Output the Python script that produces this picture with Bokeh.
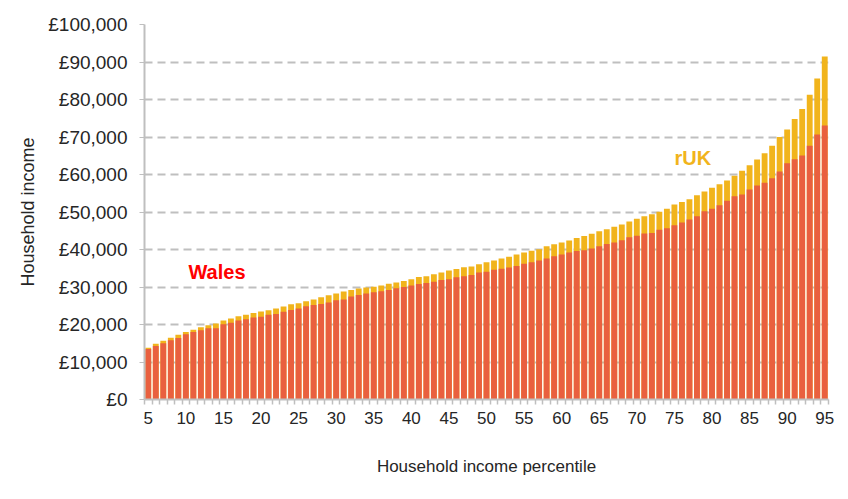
from bokeh.embed import file_html
from bokeh.models import FixedTicker, Label, Range1d
from bokeh.plotting import figure
from bokeh.resources import INLINE

# Household income by percentile (£ thousands)
percentiles = list(range(5, 96))
wales_k = [
    13.5, 14.3, 15.0, 15.8, 16.4, 17.4, 18.0, 18.5, 19.0, 19.0,
    20.1, 20.5, 21.1, 21.4, 21.9, 22.1, 22.6, 22.8, 23.4, 23.9,
    24.3, 24.9, 25.2, 25.5, 25.9, 26.5, 26.7, 27.5, 27.9, 28.3,
    28.6, 28.9, 29.2, 29.7, 30.0, 30.4, 30.8, 31.1, 31.4, 31.9,
    32.1, 32.6, 32.9, 33.2, 33.9, 34.1, 34.6, 34.9, 35.2, 35.6,
    36.2, 36.6, 37.1, 37.6, 38.2, 38.7, 39.2, 39.6, 39.8, 40.3,
    40.9, 41.5, 41.9, 42.5, 43.3, 43.7, 44.3, 44.4, 45.3, 45.7,
    46.5, 47.2, 48.0, 48.9, 50.2, 50.9, 51.8, 53.0, 54.2, 54.7,
    56.0, 57.1, 57.8, 59.0, 60.8, 63.0, 64.1, 65.1, 67.7, 70.7,
    73.1,
]
ruk_k = [
    13.8, 14.85, 15.7, 16.5, 17.3, 18.0, 18.6, 19.3, 19.8, 20.3,
    21.1, 21.6, 22.2, 22.6, 23.1, 23.5, 23.8, 24.3, 24.8, 25.4,
    25.7, 26.2, 26.7, 27.3, 27.8, 28.3, 28.8, 29.2, 29.6, 29.9,
    30.1, 30.4, 30.9, 31.2, 31.6, 32.1, 32.7, 32.9, 33.4, 33.9,
    34.4, 34.8, 35.3, 35.5, 36.1, 36.6, 37.1, 37.6, 38.1, 38.7,
    39.2, 39.7, 40.1, 40.9, 41.4, 41.9, 42.4, 43.1, 43.6, 44.2,
    44.9, 45.4, 46.1, 46.7, 47.5, 48.2, 48.9, 49.4, 50.1, 50.9,
    52.0, 52.7, 53.4, 54.5, 55.5, 56.5, 57.4, 58.4, 59.7, 61.0,
    62.5, 64.0, 65.7, 67.7, 70.0, 72.0, 74.8, 77.5, 81.3, 85.6,
    91.5,
]
wales = [v * 1000 for v in wales_k]
ruk = [v * 1000 for v in ruk_k]

x_tick_values = list(range(5, 96, 5))
y_tick_values = list(range(0, 100001, 10000))
y_tick_labels = ["£0", "£10,000", "£20,000", "£30,000", "£40,000", "£50,000",
                 "£60,000", "£70,000", "£80,000", "£90,000", "£100,000"]

WALES_COLOR = "#E9603F"
RUK_COLOR = "#F1B41C"
AXIS_GREY = "#BFBFBF"
TEXT_COLOR = "#262626"
FONT = "Liberation Sans"

p = figure(
    width=848, height=499,
    x_range=Range1d(4.5, 95.5), y_range=Range1d(0, 100000),
    output_backend="svg", toolbar_location=None,
    min_border_left=144, min_border_right=20,
    min_border_top=24, min_border_bottom=100,
    background_fill_color="white", border_fill_color="white",
)
p.outline_line_color = None

# rUK bars sit behind the Wales bars at each percentile
p.vbar(x=percentiles, top=ruk, width=0.78, fill_color=RUK_COLOR, line_color=None)
p.vbar(x=percentiles, top=wales, width=0.78, fill_color=WALES_COLOR, line_color=None)

# Grid
p.xgrid.visible = False
p.ygrid.ticker = FixedTicker(ticks=y_tick_values)
p.ygrid.grid_line_color = AXIS_GREY
p.ygrid.grid_line_width = 2
p.ygrid.grid_line_dash = "8 5"

# X axis: labels every 5 percentiles, ticks between categories
xa = p.xaxis[0]
xa.ticker = FixedTicker(ticks=x_tick_values,
                        minor_ticks=[k + 0.5 for k in range(4, 96)])
xa.axis_line_color = AXIS_GREY
xa.axis_line_width = 2
xa.major_tick_line_color = None
xa.minor_tick_line_color = AXIS_GREY
xa.minor_tick_line_width = 1.5
xa.minor_tick_in = 0
xa.minor_tick_out = 5
xa.major_label_standoff = 6
xa.major_label_text_font = FONT
xa.major_label_text_font_size = "17px"
xa.major_label_text_color = TEXT_COLOR
xa.axis_label = "Household income percentile"
xa.axis_label_text_font = FONT
xa.axis_label_text_font_size = "17px"
xa.axis_label_text_font_style = "normal"
xa.axis_label_text_color = TEXT_COLOR
xa.axis_label_standoff = 30

# Y axis: pound-formatted labels
ya = p.yaxis[0]
ya.ticker = FixedTicker(ticks=y_tick_values)
ya.major_label_overrides = dict(zip(y_tick_values, y_tick_labels))
ya.axis_line_color = AXIS_GREY
ya.axis_line_width = 2
ya.major_tick_line_color = AXIS_GREY
ya.major_tick_in = 0
ya.major_tick_out = 5
ya.minor_tick_line_color = None
ya.major_label_standoff = 12
ya.major_label_text_font = FONT
ya.major_label_text_font_size = "19px"
ya.major_label_text_color = TEXT_COLOR
ya.axis_label = "Household income"
ya.axis_label_text_font = FONT
ya.axis_label_text_font_size = "18px"
ya.axis_label_text_font_style = "normal"
ya.axis_label_text_color = TEXT_COLOR
ya.axis_label_standoff = 7

# Series labels
p.add_layout(Label(
    x=10.35, y=34000, text="Wales", text_align="left",
    text_baseline="alphabetic", text_font=FONT, text_font_style="bold",
    text_font_size="20px", text_color="#FF0000",
))
p.add_layout(Label(
    x=75.0, y=64500, text="rUK", text_align="left",
    text_baseline="alphabetic", text_font=FONT, text_font_style="bold",
    text_font_size="20px", text_color=RUK_COLOR,
))

open("out.html", "w").write(file_html(p, INLINE))
